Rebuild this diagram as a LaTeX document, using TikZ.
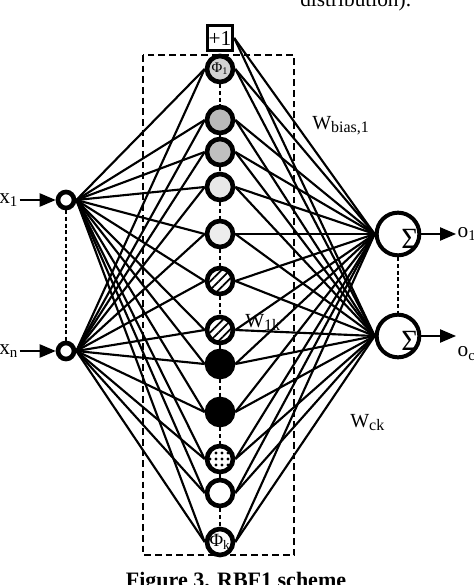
\documentclass[tikz,border=0pt]{standalone}
\usepackage{fontspec}
\setmainfont{Liberation Serif}
\usetikzlibrary{arrows.meta, patterns.meta, positioning}
\newlength{\hidsize}
\setlength{\hidsize}{19.5pt}
\tikzset{hid/.style = {shape=circle,draw,line width=3.5pt,minimum size=\hidsize,inner sep=0pt,fill=white}}
\tikzset{inp/.style = {shape=circle,draw,line width=3.5pt,minimum size=12pt,inner sep=0pt}}
\tikzset{outp/.style = {shape=circle,draw,line width=3pt,minimum size=32pt,inner sep=0pt}}
\tikzset{bias/.style = {shape=rectangle,draw,line width=2.3pt,minimum size=19pt,inner sep=0pt,font=\fontsize{16}{18}\selectfont}}
\tikzset{edge/.style = {line width=1.6pt}}
\tikzset{arr/.style = {-{Triangle[length=12pt,width=10pt]},line width=1pt}}
\tikzset{lab/.style = {inner sep=1pt,font=\fontsize{16}{19}\selectfont}}
\tikzset{wlab/.style = {inner sep=0pt,anchor=base west,font=\fontsize{15}{18}\selectfont}}
\tikzset{frame/.style = {line width=1.3pt,dash pattern=on 5pt off 3pt}}
\newcommand{\lsub}[1]{\raisebox{-2.5pt}{\fontsize{12}{14}\selectfont #1}}

\begin{document}
\begin{tikzpicture}[x=0.75pt,y=-0.75pt]
                \useasboundingbox (0,0) rectangle (474,585);
                % last line of the text above, cut off
                \node[lab, anchor=base west, inner sep=0pt] (txt) at (300,7) {distribution).};
                % hidden layer frame
                \draw[frame] (143,55) rectangle (294,555);
                \node[bias] (b) at (220,38) {+1};
                % hidden units
                \node[hid, fill=gray!35, font=\fontsize{11}{12}\selectfont] (h1) at (220,69) {Φ\textsubscript{1}};
                \node[hid, fill=gray!55] (h2) at (220,120) {};
                \node[hid, fill=gray!50] (h3) at (220,152) {};
                \node[hid, fill=gray!18] (h4) at (220,187) {};
                \node[hid, fill=gray!14] (h5) at (220,234) {};
                \node[hid, postaction={pattern={Lines[angle=45,distance=4.5pt,line width=1.3pt]}}] (h6) at (220,281) {};
                \node[hid, postaction={pattern={Lines[angle=45,distance=4.5pt,line width=1.3pt]}}] (h7) at (220,330) {};
                \node[hid, fill=black] (h8) at (220,364) {};
                \node[hid, fill=black] (h9) at (220,412) {};
                \node[hid, postaction={pattern={Dots[radius=1.2pt,distance=4.5pt]}}] (h10) at (220,459) {};
                \node[hid] (h11) at (220,493) {};
                \node[hid, font=\fontsize{14}{16}\selectfont] (h12) at (220,542) {Φ\textsubscript{k}};
                \foreach \i/\j in {1/2,2/3,3/4,4/5,5/6,6/7,7/8,8/9,9/10,10/11,11/12}
                    \draw[frame, dash pattern=on 3pt off 2pt] (h\i) -- (h\j);
                % inputs
                \node[inp] (x1) at (66,200) {};
                \node[inp] (xn) at (66,351) {};
                \draw[frame, dash pattern=on 3pt off 2pt] (x1) -- (xn);
                \node[lab, left=27pt of x1] (lx1) {x\textsubscript{1}};
                \draw[arr] (lx1) -- (x1);
                \node[lab, left=27pt of xn] (lxn) {x\textsubscript{n}};
                \draw[arr] (lxn) -- (xn);
                % outputs
                \node[outp, label={[xshift=9pt, yshift=-3.5pt, font=\fontsize{22}{24}\selectfont]center:Σ}] (o1) at (398,234) {};
                \node[outp, label={[xshift=9pt, yshift=-3.5pt, font=\fontsize{22}{24}\selectfont]center:Σ}] (oc) at (398,336) {};
                \draw[frame, dash pattern=on 3pt off 2pt] (o1) -- (oc);
                \node[lab, right=26pt of o1] (lo1) {o\textsubscript{1}};
                \draw[arr] (o1) -- (lo1);
                \coordinate[right=26pt of oc] (toc);
                \draw[arr] (oc) -- (toc);
                \node[lab, below right=7pt and 0pt of toc] (loc) {o\textsubscript{c}};
                % weights
                \foreach \i in {1,...,12} {
                    \draw[edge] (x1.east) -- (h\i.west);
                    \draw[edge] (xn.east) -- (h\i.west);
                    \draw[edge] (h\i.east) -- (o1.west);
                    \draw[edge] (h\i.east) -- (oc.west);
                }
                \draw[edge] (b.east) -- (o1.west);
                \draw[edge] (b.east) -- (oc.west);
                \node[wlab] (wb) at (312,129) {W\lsub{bias,1}};
                \node[wlab] (w1k) at (245,327) {W\lsub{1k}};
                \node[wlab] (wck) at (350,427) {W\lsub{ck}};
                % caption
                \node[lab, anchor=base, inner sep=0pt, font=\bfseries\fontsize{16.5}{19}\selectfont] (cap) at (236,587) {Figure 3. RBF1 scheme};
            \end{tikzpicture}
\end{document}
